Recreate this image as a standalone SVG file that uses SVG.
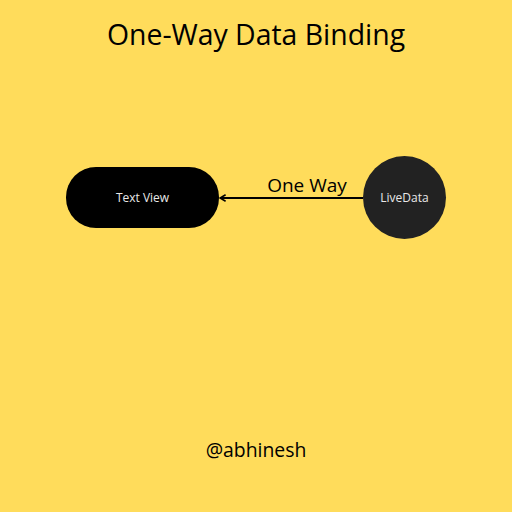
<svg xmlns="http://www.w3.org/2000/svg" width="512" height="512" viewBox="0 0 512 512">
<style>
text{font-family:"Open Sans","Noto Sans","Liberation Sans",sans-serif}
.title{font-size:28.4px;fill:#000}
.lbl{font-size:12px;fill:#e8e8e8}
.edge{font-size:19px;fill:#000}
</style>
<defs>
<marker id="arr" viewBox="0 0 10 10" refX="9" refY="5" markerWidth="8" markerHeight="8" markerUnits="userSpaceOnUse" orient="auto">
<path d="M2,1 L9,5 L2,9" fill="none" stroke="#000" stroke-width="2"/>
</marker>
</defs>
<rect width="512" height="512" fill="#FFDC5B"/>
<text class="title" x="256" y="45" text-anchor="middle">One-Way Data Binding</text>
<g id="textview">
<rect x="66" y="167" width="153" height="61" rx="30" fill="#000"/>
<text class="lbl" x="142.5" y="202" text-anchor="middle">Text View</text>
</g>
<g id="livedata">
<circle cx="404.5" cy="197.5" r="41.5" fill="#222"/>
<text class="lbl" x="404.5" y="202" text-anchor="middle">LiveData</text>
</g>
<g id="connectors">
<line x1="363" y1="198" x2="220" y2="198" stroke="#000" stroke-width="2" marker-end="url(#arr)"/>
<text class="edge" x="307" y="192" text-anchor="middle">One Way</text>
</g>
<text class="edge" x="256" y="457" text-anchor="middle" style="font-size:19.4px">@abhinesh</text>
</svg>
